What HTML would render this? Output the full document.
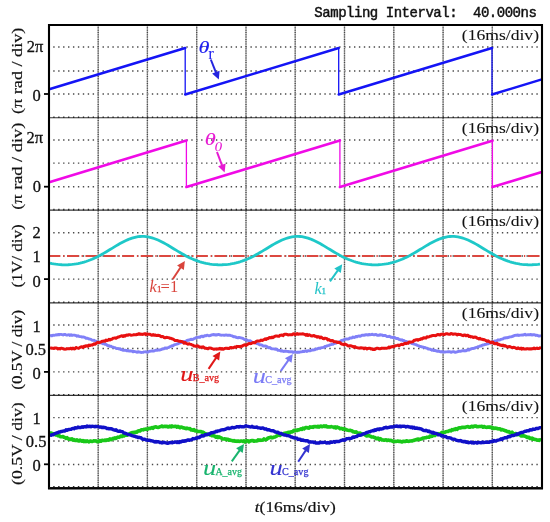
<!DOCTYPE html><html><head><meta charset="utf-8"><title>scope</title><style>html,body{margin:0;padding:0;background:#fff;}svg{display:block;filter:blur(0.3px);}text{font-family:"Liberation Serif","Noto Serif CJK SC",serif;}</style></head><body>
<svg width="550" height="522" viewBox="0 0 550 522">
<rect width="550" height="522" fill="#fff"/>
<text x="318.56 326.49 334.42 342.35 350.28 358.21 366.14 374.07 382.00 389.93 397.86 405.79 413.72 421.65 429.58 437.51 445.44 453.37 461.30 469.23 477.16 485.09 493.02 500.95 508.88 516.81 524.74 532.67" y="17.4" text-anchor="middle" style="font-family:'Liberation Mono',monospace;font-size:14px;fill:#111;stroke:#111;stroke-width:0.45px" xml:space="preserve">Sampling Interval:  40.000ns</text>
<line x1="49.0" y1="47.0" x2="542.0" y2="47.0" stroke="#4a4a4a" stroke-width="1.35" stroke-dasharray="1.4 3.53" stroke-dashoffset="0.7"/>
<line x1="49.0" y1="71.0" x2="542.0" y2="71.0" stroke="#4a4a4a" stroke-width="1.35" stroke-dasharray="1.4 3.53" stroke-dashoffset="0.7"/>
<line x1="49.0" y1="94.0" x2="542.0" y2="94.0" stroke="#4a4a4a" stroke-width="1.35" stroke-dasharray="1.4 3.53" stroke-dashoffset="0.7"/>
<line x1="49.0" y1="140.0" x2="542.0" y2="140.0" stroke="#4a4a4a" stroke-width="1.35" stroke-dasharray="1.4 3.53" stroke-dashoffset="0.7"/>
<line x1="49.0" y1="163.1" x2="542.0" y2="163.1" stroke="#4a4a4a" stroke-width="1.35" stroke-dasharray="1.4 3.53" stroke-dashoffset="0.7"/>
<line x1="49.0" y1="186.7" x2="542.0" y2="186.7" stroke="#4a4a4a" stroke-width="1.35" stroke-dasharray="1.4 3.53" stroke-dashoffset="0.7"/>
<line x1="49.0" y1="232.7" x2="542.0" y2="232.7" stroke="#4a4a4a" stroke-width="1.35" stroke-dasharray="1.4 3.53" stroke-dashoffset="0.7"/>
<line x1="49.0" y1="256.0" x2="542.0" y2="256.0" stroke="#4a4a4a" stroke-width="1.35" stroke-dasharray="1.4 3.53" stroke-dashoffset="0.7"/>
<line x1="49.0" y1="279.1" x2="542.0" y2="279.1" stroke="#4a4a4a" stroke-width="1.35" stroke-dasharray="1.4 3.53" stroke-dashoffset="0.7"/>
<line x1="49.0" y1="325.0" x2="542.0" y2="325.0" stroke="#4a4a4a" stroke-width="1.35" stroke-dasharray="1.4 3.53" stroke-dashoffset="0.7"/>
<line x1="49.0" y1="348.5" x2="542.0" y2="348.5" stroke="#4a4a4a" stroke-width="1.35" stroke-dasharray="1.4 3.53" stroke-dashoffset="0.7"/>
<line x1="49.0" y1="371.9" x2="542.0" y2="371.9" stroke="#4a4a4a" stroke-width="1.35" stroke-dasharray="1.4 3.53" stroke-dashoffset="0.7"/>
<line x1="49.0" y1="417.6" x2="542.0" y2="417.6" stroke="#4a4a4a" stroke-width="1.35" stroke-dasharray="1.4 3.53" stroke-dashoffset="0.7"/>
<line x1="49.0" y1="441.0" x2="542.0" y2="441.0" stroke="#4a4a4a" stroke-width="1.35" stroke-dasharray="1.4 3.53" stroke-dashoffset="0.7"/>
<line x1="49.0" y1="464.5" x2="542.0" y2="464.5" stroke="#4a4a4a" stroke-width="1.35" stroke-dasharray="1.4 3.53" stroke-dashoffset="0.7"/>
<line x1="98.2" y1="25.0" x2="98.2" y2="488.5" stroke="#a8a8a8" stroke-width="1.3"/>
<line x1="98.2" y1="25.0" x2="98.2" y2="488.5" stroke="#4a4a4a" stroke-width="1.3" stroke-dasharray="1.0 1.32"/>
<line x1="147.4" y1="25.0" x2="147.4" y2="488.5" stroke="#a8a8a8" stroke-width="1.3"/>
<line x1="147.4" y1="25.0" x2="147.4" y2="488.5" stroke="#4a4a4a" stroke-width="1.3" stroke-dasharray="1.0 1.32"/>
<line x1="196.7" y1="25.0" x2="196.7" y2="488.5" stroke="#a8a8a8" stroke-width="1.3"/>
<line x1="196.7" y1="25.0" x2="196.7" y2="488.5" stroke="#4a4a4a" stroke-width="1.3" stroke-dasharray="1.0 1.32"/>
<line x1="246.0" y1="25.0" x2="246.0" y2="488.5" stroke="#a8a8a8" stroke-width="1.3"/>
<line x1="246.0" y1="25.0" x2="246.0" y2="488.5" stroke="#4a4a4a" stroke-width="1.3" stroke-dasharray="1.0 1.32"/>
<line x1="295.2" y1="25.0" x2="295.2" y2="488.5" stroke="#a8a8a8" stroke-width="1.3"/>
<line x1="295.2" y1="25.0" x2="295.2" y2="488.5" stroke="#4a4a4a" stroke-width="1.3" stroke-dasharray="1.0 1.32"/>
<line x1="344.5" y1="25.0" x2="344.5" y2="488.5" stroke="#a8a8a8" stroke-width="1.3"/>
<line x1="344.5" y1="25.0" x2="344.5" y2="488.5" stroke="#4a4a4a" stroke-width="1.3" stroke-dasharray="1.0 1.32"/>
<line x1="393.8" y1="25.0" x2="393.8" y2="488.5" stroke="#a8a8a8" stroke-width="1.3"/>
<line x1="393.8" y1="25.0" x2="393.8" y2="488.5" stroke="#4a4a4a" stroke-width="1.3" stroke-dasharray="1.0 1.32"/>
<line x1="443.1" y1="25.0" x2="443.1" y2="488.5" stroke="#a8a8a8" stroke-width="1.3"/>
<line x1="443.1" y1="25.0" x2="443.1" y2="488.5" stroke="#4a4a4a" stroke-width="1.3" stroke-dasharray="1.0 1.32"/>
<line x1="492.3" y1="25.0" x2="492.3" y2="488.5" stroke="#a8a8a8" stroke-width="1.3"/>
<line x1="492.3" y1="25.0" x2="492.3" y2="488.5" stroke="#4a4a4a" stroke-width="1.3" stroke-dasharray="1.0 1.32"/>
<line x1="49.0" y1="117.7" x2="542.0" y2="117.7" stroke="#333" stroke-width="1.15"/>
<line x1="49.0" y1="117.2" x2="542.0" y2="117.2" stroke="#222" stroke-width="1.6" stroke-dasharray="1.3 3.63" stroke-dashoffset="0.65"/>
<line x1="49.0" y1="210.1" x2="542.0" y2="210.1" stroke="#333" stroke-width="1.15"/>
<line x1="49.0" y1="209.6" x2="542.0" y2="209.6" stroke="#222" stroke-width="1.6" stroke-dasharray="1.3 3.63" stroke-dashoffset="0.65"/>
<line x1="49.0" y1="302.8" x2="542.0" y2="302.8" stroke="#333" stroke-width="1.15"/>
<line x1="49.0" y1="302.3" x2="542.0" y2="302.3" stroke="#222" stroke-width="1.6" stroke-dasharray="1.3 3.63" stroke-dashoffset="0.65"/>
<line x1="49.0" y1="395.4" x2="542.0" y2="395.4" stroke="#333" stroke-width="1.15"/>
<line x1="49.0" y1="394.9" x2="542.0" y2="394.9" stroke="#222" stroke-width="1.6" stroke-dasharray="1.3 3.63" stroke-dashoffset="0.65"/>
<line x1="49.0" y1="486.6" x2="542.0" y2="486.6" stroke="#333" stroke-width="1.4" stroke-dasharray="1.5 3.43" stroke-dashoffset="0.75"/>
<g fill="none" stroke-linejoin="round">
<path d="M50.0,88.98 L185.2,48.00 M185.2,94.50 L338.7,47.97 M338.7,94.50 L492.0,48.03 M492.0,94.50 L541.0,79.65" stroke="#1414f5" stroke-width="2.5" stroke-linecap="round"/>
<path d="M185.2,48.00 V94.50 M338.7,48.00 V94.50 M492.0,48.00 V94.50" stroke="#1414f5" stroke-width="1.3"/>
<path d="M50.0,181.97 L186.4,140.60 M186.4,187.00 L339.9,140.45 M339.9,187.00 L492.4,140.75 M492.4,187.00 L541.0,172.26" stroke="#f00ae6" stroke-width="2.6" stroke-linecap="round"/>
<path d="M186.4,140.60 V187.00 M339.9,140.60 V187.00 M492.4,140.60 V187.00" stroke="#f00ae6" stroke-width="1.3"/>
<line x1="49" y1="256" x2="541" y2="256" stroke="#dc4840" stroke-width="2.0" stroke-dasharray="11.8 2.8 1.3 2.53" stroke-dashoffset="0.43"/>
<path d="M50.0,263.13 L52.0,263.55 L54.0,263.91 L56.0,264.21 L58.0,264.44 L60.0,264.62 L62.0,264.73 L64.0,264.79 L66.0,264.79 L68.0,264.73 L70.0,264.62 L72.0,264.44 L74.0,264.21 L76.0,263.91 L78.0,263.55 L80.0,263.13 L82.0,262.64 L84.0,262.09 L86.0,261.47 L88.0,260.79 L90.0,260.04 L92.0,259.23 L94.0,258.35 L96.0,257.41 L98.0,256.42 L100.0,255.37 L102.0,254.27 L104.0,253.14 L106.0,251.96 L108.0,250.77 L110.0,249.55 L112.0,248.33 L114.0,247.11 L116.0,245.91 L118.0,244.73 L120.0,243.58 L122.0,242.49 L124.0,241.45 L126.0,240.49 L128.0,239.61 L130.0,238.82 L132.0,238.12 L134.0,237.54 L136.0,237.07 L138.0,236.72 L140.0,236.50 L142.0,236.40 L144.0,236.44 L146.0,236.60 L148.0,236.88 L150.0,237.29 L152.0,237.82 L154.0,238.46 L156.0,239.20 L158.0,240.04 L160.0,240.96 L162.0,241.96 L164.0,243.03 L166.0,244.15 L168.0,245.31 L170.0,246.51 L172.0,247.72 L174.0,248.94 L176.0,250.16 L178.0,251.37 L180.0,252.55 L182.0,253.71 L184.0,254.83 L186.0,255.90 L188.0,256.92 L190.0,257.89 L192.0,258.80 L194.0,259.64 L196.0,260.42 L198.0,261.14 L200.0,261.79 L202.0,262.38 L204.0,262.89 L206.0,263.35 L208.0,263.74 L210.0,264.07 L212.0,264.33 L214.0,264.54 L216.0,264.68 L218.0,264.77 L220.0,264.80 L222.0,264.77 L224.0,264.68 L226.0,264.54 L228.0,264.33 L230.0,264.07 L232.0,263.74 L234.0,263.35 L236.0,262.89 L238.0,262.38 L240.0,261.79 L242.0,261.14 L244.0,260.42 L246.0,259.64 L248.0,258.80 L250.0,257.89 L252.0,256.92 L254.0,255.90 L256.0,254.83 L258.0,253.71 L260.0,252.55 L262.0,251.37 L264.0,250.16 L266.0,248.94 L268.0,247.72 L270.0,246.51 L272.0,245.31 L274.0,244.15 L276.0,243.03 L278.0,241.96 L280.0,240.96 L282.0,240.04 L284.0,239.20 L286.0,238.46 L288.0,237.82 L290.0,237.29 L292.0,236.88 L294.0,236.60 L296.0,236.44 L298.0,236.40 L300.0,236.50 L302.0,236.72 L304.0,237.07 L306.0,237.54 L308.0,238.12 L310.0,238.82 L312.0,239.61 L314.0,240.49 L316.0,241.45 L318.0,242.49 L320.0,243.58 L322.0,244.73 L324.0,245.91 L326.0,247.11 L328.0,248.33 L330.0,249.55 L332.0,250.77 L334.0,251.96 L336.0,253.14 L338.0,254.27 L340.0,255.37 L342.0,256.42 L344.0,257.41 L346.0,258.35 L348.0,259.23 L350.0,260.04 L352.0,260.79 L354.0,261.47 L356.0,262.09 L358.0,262.64 L360.0,263.13 L362.0,263.55 L364.0,263.91 L366.0,264.21 L368.0,264.44 L370.0,264.62 L372.0,264.73 L374.0,264.79 L376.0,264.79 L378.0,264.73 L380.0,264.62 L382.0,264.44 L384.0,264.21 L386.0,263.91 L388.0,263.55 L390.0,263.13 L392.0,262.64 L394.0,262.09 L396.0,261.47 L398.0,260.79 L400.0,260.04 L402.0,259.23 L404.0,258.35 L406.0,257.41 L408.0,256.42 L410.0,255.37 L412.0,254.27 L414.0,253.14 L416.0,251.96 L418.0,250.77 L420.0,249.55 L422.0,248.33 L424.0,247.11 L426.0,245.91 L428.0,244.73 L430.0,243.58 L432.0,242.49 L434.0,241.45 L436.0,240.49 L438.0,239.61 L440.0,238.82 L442.0,238.12 L444.0,237.54 L446.0,237.07 L448.0,236.72 L450.0,236.50 L452.0,236.40 L454.0,236.44 L456.0,236.60 L458.0,236.88 L460.0,237.29 L462.0,237.82 L464.0,238.46 L466.0,239.20 L468.0,240.04 L470.0,240.96 L472.0,241.96 L474.0,243.03 L476.0,244.15 L478.0,245.31 L480.0,246.51 L482.0,247.72 L484.0,248.94 L486.0,250.16 L488.0,251.37 L490.0,252.55 L492.0,253.71 L494.0,254.83 L496.0,255.90 L498.0,256.92 L500.0,257.89 L502.0,258.80 L504.0,259.64 L506.0,260.42 L508.0,261.14 L510.0,261.79 L512.0,262.38 L514.0,262.89 L516.0,263.35 L518.0,263.74 L520.0,264.07 L522.0,264.33 L524.0,264.54 L526.0,264.68 L528.0,264.77 L530.0,264.80 L532.0,264.77 L534.0,264.68 L536.0,264.54 L538.0,264.33 L540.0,264.07" stroke="#1ec8c8" stroke-width="2.8"/>
<path d="M50.0,335.87 L51.0,335.53 L52.0,335.81 L53.0,335.13 L54.0,335.41 L55.0,335.12 L56.0,334.73 L57.0,335.03 L58.0,334.52 L59.0,334.80 L60.0,334.41 L61.0,334.39 L62.0,334.65 L63.0,335.00 L64.0,334.36 L65.0,334.46 L66.0,334.85 L67.0,335.18 L68.0,334.90 L69.0,334.80 L70.0,335.41 L71.0,334.67 L72.0,335.51 L73.0,335.12 L74.0,335.12 L75.0,335.25 L76.0,335.59 L77.0,336.22 L78.0,335.83 L79.0,336.39 L80.0,336.66 L81.0,336.64 L82.0,337.03 L83.0,336.84 L84.0,337.09 L85.0,337.49 L86.0,338.19 L87.0,338.24 L88.0,338.43 L89.0,338.97 L90.0,339.16 L91.0,339.34 L92.0,340.10 L93.0,340.34 L94.0,340.26 L95.0,340.90 L96.0,341.19 L97.0,341.85 L98.0,342.07 L99.0,342.02 L100.0,342.99 L101.0,342.57 L102.0,343.19 L103.0,343.85 L104.0,343.66 L105.0,344.32 L106.0,344.26 L107.0,345.18 L108.0,345.61 L109.0,345.78 L110.0,346.39 L111.0,346.22 L112.0,346.89 L113.0,347.13 L114.0,347.43 L115.0,347.63 L116.0,348.28 L117.0,348.67 L118.0,348.54 L119.0,348.99 L120.0,348.72 L121.0,349.56 L122.0,349.76 L123.0,350.32 L124.0,350.39 L125.0,350.13 L126.0,350.43 L127.0,350.88 L128.0,350.48 L129.0,351.05 L130.0,350.95 L131.0,351.05 L132.0,351.13 L133.0,351.89 L134.0,351.42 L135.0,351.62 L136.0,351.82 L137.0,352.32 L138.0,351.66 L139.0,352.03 L140.0,352.14 L141.0,352.45 L142.0,352.38 L143.0,352.40 L144.0,351.84 L145.0,351.91 L146.0,351.79 L147.0,352.19 L148.0,352.16 L149.0,351.33 L150.0,351.23 L151.0,351.15 L152.0,351.00 L153.0,351.07 L154.0,350.99 L155.0,350.51 L156.0,350.08 L157.0,350.25 L158.0,349.98 L159.0,349.93 L160.0,350.04 L161.0,349.55 L162.0,349.13 L163.0,348.95 L164.0,348.72 L165.0,347.87 L166.0,348.34 L167.0,347.93 L168.0,347.70 L169.0,347.31 L170.0,346.62 L171.0,346.30 L172.0,345.70 L173.0,345.84 L174.0,344.98 L175.0,344.64 L176.0,344.42 L177.0,344.02 L178.0,343.83 L179.0,343.22 L180.0,342.82 L181.0,342.60 L182.0,342.20 L183.0,342.09 L184.0,341.43 L185.0,341.85 L186.0,341.27 L187.0,340.51 L188.0,340.27 L189.0,340.03 L190.0,339.71 L191.0,339.18 L192.0,339.52 L193.0,339.34 L194.0,338.57 L195.0,338.29 L196.0,337.65 L197.0,337.39 L198.0,337.35 L199.0,337.02 L200.0,337.28 L201.0,336.45 L202.0,336.10 L203.0,336.73 L204.0,336.15 L205.0,335.61 L206.0,335.80 L207.0,335.17 L208.0,335.47 L209.0,335.74 L210.0,335.51 L211.0,335.25 L212.0,334.76 L213.0,334.78 L214.0,334.53 L215.0,335.02 L216.0,334.77 L217.0,334.96 L218.0,334.55 L219.0,334.45 L220.0,335.00 L221.0,335.19 L222.0,335.12 L223.0,335.14 L224.0,335.22 L225.0,335.24 L226.0,334.88 L227.0,335.26 L228.0,335.25 L229.0,335.09 L230.0,335.25 L231.0,335.65 L232.0,335.81 L233.0,336.39 L234.0,336.84 L235.0,336.59 L236.0,337.26 L237.0,337.55 L238.0,337.77 L239.0,337.50 L240.0,337.64 L241.0,337.92 L242.0,338.18 L243.0,338.48 L244.0,339.16 L245.0,339.72 L246.0,339.98 L247.0,339.98 L248.0,340.47 L249.0,340.93 L250.0,340.63 L251.0,341.49 L252.0,342.06 L253.0,342.29 L254.0,342.61 L255.0,342.72 L256.0,342.80 L257.0,343.70 L258.0,343.65 L259.0,344.42 L260.0,344.93 L261.0,344.76 L262.0,345.11 L263.0,345.95 L264.0,346.09 L265.0,345.93 L266.0,346.22 L267.0,346.57 L268.0,347.57 L269.0,347.79 L270.0,347.51 L271.0,348.42 L272.0,348.85 L273.0,348.85 L274.0,348.85 L275.0,349.29 L276.0,349.17 L277.0,349.31 L278.0,350.41 L279.0,350.35 L280.0,350.45 L281.0,351.02 L282.0,350.76 L283.0,351.33 L284.0,351.46 L285.0,351.06 L286.0,351.24 L287.0,351.40 L288.0,351.46 L289.0,351.88 L290.0,351.67 L291.0,351.88 L292.0,351.68 L293.0,352.42 L294.0,351.95 L295.0,352.06 L296.0,352.17 L297.0,352.45 L298.0,351.98 L299.0,352.39 L300.0,351.96 L301.0,351.91 L302.0,351.82 L303.0,351.27 L304.0,351.53 L305.0,351.17 L306.0,350.87 L307.0,351.44 L308.0,350.70 L309.0,350.80 L310.0,350.83 L311.0,350.48 L312.0,350.06 L313.0,350.00 L314.0,349.80 L315.0,349.76 L316.0,348.89 L317.0,349.04 L318.0,348.48 L319.0,348.22 L320.0,348.37 L321.0,347.83 L322.0,347.57 L323.0,347.44 L324.0,347.25 L325.0,346.50 L326.0,346.32 L327.0,345.89 L328.0,345.56 L329.0,345.37 L330.0,344.81 L331.0,344.53 L332.0,344.13 L333.0,344.20 L334.0,343.62 L335.0,343.43 L336.0,343.14 L337.0,342.17 L338.0,342.09 L339.0,342.09 L340.0,341.65 L341.0,340.67 L342.0,340.32 L343.0,340.28 L344.0,339.61 L345.0,339.44 L346.0,338.98 L347.0,339.20 L348.0,339.00 L349.0,338.81 L350.0,337.85 L351.0,338.08 L352.0,337.76 L353.0,337.04 L354.0,337.45 L355.0,337.29 L356.0,336.39 L357.0,336.83 L358.0,336.13 L359.0,336.01 L360.0,336.28 L361.0,335.97 L362.0,335.21 L363.0,335.31 L364.0,335.26 L365.0,334.98 L366.0,334.75 L367.0,334.77 L368.0,335.06 L369.0,334.37 L370.0,334.80 L371.0,334.67 L372.0,334.27 L373.0,334.55 L374.0,334.82 L375.0,334.75 L376.0,334.38 L377.0,335.27 L378.0,335.16 L379.0,335.40 L380.0,334.72 L381.0,334.97 L382.0,334.89 L383.0,335.70 L384.0,335.39 L385.0,335.42 L386.0,335.86 L387.0,336.49 L388.0,336.61 L389.0,336.31 L390.0,336.44 L391.0,337.37 L392.0,337.30 L393.0,337.67 L394.0,337.38 L395.0,337.63 L396.0,338.48 L397.0,338.53 L398.0,338.51 L399.0,339.60 L400.0,339.64 L401.0,340.11 L402.0,339.79 L403.0,340.81 L404.0,340.44 L405.0,341.50 L406.0,341.47 L407.0,341.72 L408.0,342.26 L409.0,342.95 L410.0,342.70 L411.0,342.93 L412.0,343.65 L413.0,343.74 L414.0,343.98 L415.0,344.37 L416.0,344.62 L417.0,345.10 L418.0,345.55 L419.0,345.88 L420.0,346.62 L421.0,346.53 L422.0,347.04 L423.0,347.07 L424.0,347.54 L425.0,347.54 L426.0,348.05 L427.0,348.13 L428.0,349.05 L429.0,349.16 L430.0,349.10 L431.0,349.61 L432.0,350.26 L433.0,349.75 L434.0,350.61 L435.0,350.47 L436.0,350.72 L437.0,351.21 L438.0,350.99 L439.0,351.25 L440.0,351.56 L441.0,351.96 L442.0,351.50 L443.0,352.05 L444.0,352.03 L445.0,352.04 L446.0,351.90 L447.0,351.90 L448.0,351.67 L449.0,351.76 L450.0,351.71 L451.0,352.31 L452.0,351.85 L453.0,351.73 L454.0,351.61 L455.0,352.23 L456.0,352.18 L457.0,351.90 L458.0,351.45 L459.0,351.29 L460.0,351.20 L461.0,351.21 L462.0,350.78 L463.0,350.86 L464.0,350.51 L465.0,350.95 L466.0,350.75 L467.0,350.14 L468.0,349.64 L469.0,350.05 L470.0,349.21 L471.0,348.99 L472.0,348.40 L473.0,348.46 L474.0,348.25 L475.0,347.98 L476.0,347.40 L477.0,347.37 L478.0,346.60 L479.0,346.51 L480.0,346.02 L481.0,345.96 L482.0,345.30 L483.0,344.94 L484.0,344.85 L485.0,344.44 L486.0,344.40 L487.0,344.00 L488.0,343.85 L489.0,343.41 L490.0,343.11 L491.0,342.90 L492.0,342.11 L493.0,341.70 L494.0,341.95 L495.0,340.85 L496.0,341.03 L497.0,340.62 L498.0,339.75 L499.0,340.14 L500.0,339.87 L501.0,339.32 L502.0,339.11 L503.0,338.88 L504.0,337.98 L505.0,338.05 L506.0,337.76 L507.0,337.79 L508.0,337.51 L509.0,337.28 L510.0,336.83 L511.0,336.89 L512.0,336.48 L513.0,336.29 L514.0,335.69 L515.0,335.34 L516.0,335.26 L517.0,335.32 L518.0,334.95 L519.0,335.49 L520.0,335.13 L521.0,335.09 L522.0,335.01 L523.0,334.99 L524.0,334.77 L525.0,334.29 L526.0,334.98 L527.0,334.92 L528.0,334.71 L529.0,334.75 L530.0,334.90 L531.0,334.41 L532.0,335.07 L533.0,334.71 L534.0,334.64 L535.0,334.92 L536.0,335.45 L537.0,335.11 L538.0,335.73 L539.0,336.10 L540.0,335.84 L541.0,335.92" stroke="#8080f8" stroke-width="2.9"/>
<path d="M50.0,347.67 L51.0,348.07 L52.0,348.32 L53.0,348.28 L54.0,348.44 L55.0,347.88 L56.0,348.06 L57.0,348.29 L58.0,348.95 L59.0,348.50 L60.0,348.87 L61.0,348.25 L62.0,348.34 L63.0,348.61 L64.0,349.11 L65.0,349.13 L66.0,349.09 L67.0,348.60 L68.0,348.83 L69.0,348.72 L70.0,348.66 L71.0,348.17 L72.0,349.01 L73.0,348.08 L74.0,348.90 L75.0,348.73 L76.0,347.49 L77.0,347.88 L78.0,348.16 L79.0,348.17 L80.0,347.37 L81.0,346.97 L82.0,346.71 L83.0,347.39 L84.0,346.29 L85.0,346.52 L86.0,345.76 L87.0,345.98 L88.0,346.25 L89.0,345.02 L90.0,345.58 L91.0,344.95 L92.0,345.13 L93.0,344.64 L94.0,343.79 L95.0,344.31 L96.0,343.53 L97.0,342.68 L98.0,342.36 L99.0,342.65 L100.0,342.30 L101.0,341.83 L102.0,341.33 L103.0,341.28 L104.0,340.94 L105.0,341.27 L106.0,339.96 L107.0,340.57 L108.0,340.38 L109.0,339.22 L110.0,339.90 L111.0,339.35 L112.0,339.30 L113.0,338.29 L114.0,338.11 L115.0,337.87 L116.0,338.33 L117.0,337.59 L118.0,337.06 L119.0,336.90 L120.0,336.48 L121.0,335.98 L122.0,335.83 L123.0,336.50 L124.0,335.64 L125.0,336.23 L126.0,335.22 L127.0,335.07 L128.0,335.20 L129.0,334.66 L130.0,334.74 L131.0,335.31 L132.0,335.11 L133.0,334.91 L134.0,334.60 L135.0,334.85 L136.0,334.81 L137.0,334.28 L138.0,334.44 L139.0,333.60 L140.0,334.39 L141.0,334.04 L142.0,334.40 L143.0,334.29 L144.0,333.88 L145.0,333.63 L146.0,334.74 L147.0,333.84 L148.0,334.32 L149.0,334.25 L150.0,334.30 L151.0,334.93 L152.0,335.34 L153.0,334.61 L154.0,335.22 L155.0,334.95 L156.0,335.42 L157.0,335.40 L158.0,335.31 L159.0,335.49 L160.0,335.75 L161.0,336.79 L162.0,336.52 L163.0,336.42 L164.0,337.48 L165.0,337.83 L166.0,337.42 L167.0,337.30 L168.0,337.63 L169.0,337.77 L170.0,338.35 L171.0,338.33 L172.0,338.79 L173.0,339.10 L174.0,339.76 L175.0,340.43 L176.0,340.56 L177.0,340.46 L178.0,340.76 L179.0,341.19 L180.0,341.31 L181.0,341.57 L182.0,341.54 L183.0,342.10 L184.0,343.22 L185.0,342.51 L186.0,343.26 L187.0,343.70 L188.0,344.27 L189.0,343.77 L190.0,344.12 L191.0,344.37 L192.0,344.82 L193.0,345.14 L194.0,346.00 L195.0,346.13 L196.0,346.40 L197.0,345.62 L198.0,345.86 L199.0,346.89 L200.0,347.33 L201.0,347.02 L202.0,347.35 L203.0,346.83 L204.0,347.48 L205.0,348.29 L206.0,348.32 L207.0,348.50 L208.0,348.77 L209.0,348.02 L210.0,347.97 L211.0,348.12 L212.0,348.65 L213.0,348.92 L214.0,349.29 L215.0,349.08 L216.0,349.03 L217.0,349.20 L218.0,348.85 L219.0,348.96 L220.0,348.34 L221.0,349.21 L222.0,348.51 L223.0,349.29 L224.0,348.91 L225.0,348.43 L226.0,348.13 L227.0,348.19 L228.0,348.55 L229.0,348.50 L230.0,347.67 L231.0,347.48 L232.0,347.88 L233.0,347.79 L234.0,347.39 L235.0,347.01 L236.0,347.27 L237.0,346.37 L238.0,346.51 L239.0,346.48 L240.0,346.86 L241.0,346.25 L242.0,346.29 L243.0,345.55 L244.0,345.01 L245.0,344.77 L246.0,345.36 L247.0,344.78 L248.0,344.02 L249.0,343.40 L250.0,343.68 L251.0,343.61 L252.0,343.01 L253.0,342.52 L254.0,342.71 L255.0,342.72 L256.0,341.59 L257.0,341.05 L258.0,341.12 L259.0,340.92 L260.0,340.93 L261.0,340.05 L262.0,340.47 L263.0,340.11 L264.0,339.54 L265.0,338.89 L266.0,339.52 L267.0,338.45 L268.0,338.79 L269.0,337.81 L270.0,337.53 L271.0,337.92 L272.0,337.11 L273.0,337.65 L274.0,336.86 L275.0,336.26 L276.0,336.08 L277.0,336.10 L278.0,336.19 L279.0,336.34 L280.0,335.19 L281.0,335.31 L282.0,334.92 L283.0,335.68 L284.0,334.53 L285.0,334.29 L286.0,334.18 L287.0,334.46 L288.0,334.97 L289.0,334.86 L290.0,334.60 L291.0,334.85 L292.0,334.72 L293.0,333.95 L294.0,333.75 L295.0,334.63 L296.0,334.40 L297.0,333.54 L298.0,334.32 L299.0,334.01 L300.0,334.05 L301.0,334.05 L302.0,333.92 L303.0,333.80 L304.0,334.22 L305.0,334.41 L306.0,335.25 L307.0,334.38 L308.0,335.52 L309.0,334.76 L310.0,335.10 L311.0,335.82 L312.0,336.00 L313.0,335.72 L314.0,335.45 L315.0,336.17 L316.0,336.26 L317.0,337.14 L318.0,336.50 L319.0,336.94 L320.0,337.83 L321.0,337.04 L322.0,337.76 L323.0,338.50 L324.0,338.72 L325.0,338.13 L326.0,338.40 L327.0,338.72 L328.0,340.03 L329.0,339.53 L330.0,340.41 L331.0,340.89 L332.0,340.52 L333.0,340.74 L334.0,341.86 L335.0,341.75 L336.0,341.63 L337.0,342.47 L338.0,342.29 L339.0,342.54 L340.0,342.51 L341.0,343.70 L342.0,344.19 L343.0,344.13 L344.0,344.79 L345.0,343.96 L346.0,344.48 L347.0,345.04 L348.0,345.88 L349.0,346.13 L350.0,345.70 L351.0,345.77 L352.0,346.22 L353.0,346.52 L354.0,347.26 L355.0,346.57 L356.0,347.52 L357.0,347.63 L358.0,347.91 L359.0,348.02 L360.0,347.98 L361.0,347.79 L362.0,347.92 L363.0,348.10 L364.0,348.72 L365.0,347.98 L366.0,348.22 L367.0,348.97 L368.0,348.43 L369.0,348.27 L370.0,348.28 L371.0,348.93 L372.0,348.68 L373.0,349.48 L374.0,349.36 L375.0,349.47 L376.0,348.57 L377.0,348.32 L378.0,348.28 L379.0,348.70 L380.0,348.87 L381.0,348.47 L382.0,348.12 L383.0,348.23 L384.0,348.35 L385.0,348.28 L386.0,348.22 L387.0,348.19 L388.0,347.81 L389.0,346.98 L390.0,347.66 L391.0,346.81 L392.0,346.93 L393.0,346.49 L394.0,346.70 L395.0,345.83 L396.0,345.65 L397.0,345.40 L398.0,345.04 L399.0,345.66 L400.0,345.03 L401.0,344.46 L402.0,344.27 L403.0,344.70 L404.0,343.84 L405.0,343.22 L406.0,343.62 L407.0,343.14 L408.0,343.25 L409.0,341.89 L410.0,342.03 L411.0,342.15 L412.0,341.87 L413.0,341.66 L414.0,340.31 L415.0,340.31 L416.0,339.81 L417.0,339.60 L418.0,340.24 L419.0,339.49 L420.0,339.62 L421.0,338.66 L422.0,338.98 L423.0,338.20 L424.0,337.71 L425.0,338.07 L426.0,338.01 L427.0,336.76 L428.0,337.10 L429.0,336.90 L430.0,336.19 L431.0,336.15 L432.0,335.67 L433.0,335.54 L434.0,335.41 L435.0,335.64 L436.0,335.53 L437.0,334.83 L438.0,334.45 L439.0,334.69 L440.0,334.98 L441.0,334.27 L442.0,334.31 L443.0,334.09 L444.0,334.71 L445.0,334.34 L446.0,333.70 L447.0,333.70 L448.0,334.01 L449.0,334.17 L450.0,334.27 L451.0,333.61 L452.0,333.71 L453.0,334.37 L454.0,334.07 L455.0,333.96 L456.0,334.05 L457.0,334.90 L458.0,334.22 L459.0,334.62 L460.0,334.47 L461.0,334.66 L462.0,335.33 L463.0,335.63 L464.0,335.02 L465.0,334.99 L466.0,335.80 L467.0,335.35 L468.0,335.30 L469.0,336.58 L470.0,336.22 L471.0,336.91 L472.0,336.64 L473.0,337.45 L474.0,337.18 L475.0,337.07 L476.0,337.15 L477.0,338.06 L478.0,338.43 L479.0,339.03 L480.0,338.32 L481.0,339.25 L482.0,339.23 L483.0,339.68 L484.0,339.54 L485.0,340.00 L486.0,340.59 L487.0,341.37 L488.0,340.69 L489.0,341.45 L490.0,342.13 L491.0,342.62 L492.0,342.00 L493.0,342.21 L494.0,343.49 L495.0,343.82 L496.0,343.52 L497.0,343.29 L498.0,344.62 L499.0,344.26 L500.0,345.15 L501.0,345.08 L502.0,345.59 L503.0,345.05 L504.0,346.05 L505.0,345.62 L506.0,346.07 L507.0,346.83 L508.0,347.03 L509.0,346.47 L510.0,346.72 L511.0,347.13 L512.0,347.45 L513.0,347.47 L514.0,347.32 L515.0,347.62 L516.0,348.34 L517.0,348.68 L518.0,347.78 L519.0,348.51 L520.0,348.84 L521.0,348.07 L522.0,349.10 L523.0,348.30 L524.0,348.93 L525.0,348.91 L526.0,349.03 L527.0,348.66 L528.0,348.80 L529.0,348.99 L530.0,348.78 L531.0,349.03 L532.0,348.73 L533.0,348.66 L534.0,348.09 L535.0,348.72 L536.0,348.47 L537.0,348.06 L538.0,348.58 L539.0,348.47 L540.0,347.95 L541.0,347.47" stroke="#e81010" stroke-width="3.0"/>
<path d="M50.0,433.14 L51.0,433.01 L52.0,433.34 L53.0,434.01 L54.0,433.91 L55.0,434.63 L56.0,435.01 L57.0,434.75 L58.0,435.76 L59.0,435.40 L60.0,436.47 L61.0,436.81 L62.0,436.78 L63.0,436.51 L64.0,437.32 L65.0,437.44 L66.0,438.39 L67.0,437.67 L68.0,438.78 L69.0,439.19 L70.0,439.11 L71.0,439.43 L72.0,438.90 L73.0,440.06 L74.0,439.67 L75.0,440.42 L76.0,440.55 L77.0,439.82 L78.0,440.72 L79.0,441.04 L80.0,440.14 L81.0,440.61 L82.0,441.21 L83.0,440.60 L84.0,441.57 L85.0,440.91 L86.0,441.62 L87.0,440.87 L88.0,441.35 L89.0,441.88 L90.0,441.04 L91.0,441.12 L92.0,441.40 L93.0,441.16 L94.0,440.79 L95.0,440.92 L96.0,440.84 L97.0,441.70 L98.0,441.31 L99.0,441.48 L100.0,440.51 L101.0,441.13 L102.0,440.20 L103.0,440.56 L104.0,440.54 L105.0,440.05 L106.0,440.49 L107.0,439.93 L108.0,439.77 L109.0,439.94 L110.0,438.80 L111.0,439.64 L112.0,438.98 L113.0,438.47 L114.0,438.71 L115.0,437.82 L116.0,438.43 L117.0,437.68 L118.0,437.15 L119.0,437.36 L120.0,436.69 L121.0,436.09 L122.0,436.48 L123.0,435.35 L124.0,435.98 L125.0,435.01 L126.0,435.17 L127.0,435.28 L128.0,434.50 L129.0,434.29 L130.0,433.56 L131.0,432.88 L132.0,432.62 L133.0,432.45 L134.0,432.71 L135.0,432.19 L136.0,431.99 L137.0,432.16 L138.0,430.95 L139.0,430.78 L140.0,431.01 L141.0,429.98 L142.0,429.69 L143.0,429.84 L144.0,429.29 L145.0,429.34 L146.0,428.94 L147.0,429.13 L148.0,428.91 L149.0,428.23 L150.0,428.52 L151.0,428.14 L152.0,427.54 L153.0,428.32 L154.0,427.32 L155.0,427.04 L156.0,426.83 L157.0,427.34 L158.0,427.49 L159.0,427.26 L160.0,426.70 L161.0,426.44 L162.0,426.05 L163.0,426.74 L164.0,426.59 L165.0,426.29 L166.0,426.61 L167.0,426.34 L168.0,426.92 L169.0,426.68 L170.0,426.12 L171.0,426.93 L172.0,425.94 L173.0,426.58 L174.0,426.49 L175.0,426.37 L176.0,426.24 L177.0,427.20 L178.0,426.40 L179.0,427.17 L180.0,427.77 L181.0,426.96 L182.0,427.18 L183.0,427.84 L184.0,427.89 L185.0,428.24 L186.0,428.65 L187.0,428.09 L188.0,428.46 L189.0,428.68 L190.0,428.61 L191.0,429.85 L192.0,429.97 L193.0,430.15 L194.0,429.56 L195.0,430.83 L196.0,430.98 L197.0,430.93 L198.0,431.54 L199.0,431.48 L200.0,431.50 L201.0,431.65 L202.0,432.10 L203.0,432.17 L204.0,432.83 L205.0,433.63 L206.0,433.87 L207.0,434.35 L208.0,434.50 L209.0,434.27 L210.0,434.92 L211.0,435.08 L212.0,435.80 L213.0,435.78 L214.0,435.76 L215.0,436.50 L216.0,437.18 L217.0,436.56 L218.0,437.63 L219.0,436.87 L220.0,437.43 L221.0,437.66 L222.0,438.52 L223.0,439.01 L224.0,439.01 L225.0,438.73 L226.0,439.62 L227.0,439.17 L228.0,439.27 L229.0,440.26 L230.0,440.12 L231.0,440.36 L232.0,440.50 L233.0,441.03 L234.0,440.56 L235.0,441.13 L236.0,441.08 L237.0,441.39 L238.0,440.98 L239.0,441.41 L240.0,441.30 L241.0,441.04 L242.0,440.98 L243.0,441.51 L244.0,440.88 L245.0,441.89 L246.0,440.97 L247.0,440.82 L248.0,440.89 L249.0,441.84 L250.0,441.09 L251.0,440.78 L252.0,440.57 L253.0,440.50 L254.0,441.19 L255.0,441.01 L256.0,440.96 L257.0,440.88 L258.0,439.93 L259.0,440.41 L260.0,439.97 L261.0,440.34 L262.0,440.16 L263.0,440.05 L264.0,438.85 L265.0,439.60 L266.0,439.44 L267.0,439.24 L268.0,438.00 L269.0,437.87 L270.0,437.51 L271.0,437.16 L272.0,437.87 L273.0,437.55 L274.0,437.06 L275.0,437.01 L276.0,436.49 L277.0,435.79 L278.0,435.27 L279.0,434.97 L280.0,435.46 L281.0,434.50 L282.0,434.33 L283.0,434.15 L284.0,433.36 L285.0,433.34 L286.0,433.07 L287.0,433.28 L288.0,432.56 L289.0,432.21 L290.0,432.68 L291.0,431.83 L292.0,431.96 L293.0,431.39 L294.0,430.41 L295.0,430.59 L296.0,430.34 L297.0,430.48 L298.0,429.71 L299.0,429.88 L300.0,429.43 L301.0,428.81 L302.0,429.35 L303.0,428.20 L304.0,428.86 L305.0,427.88 L306.0,427.48 L307.0,427.53 L308.0,428.02 L309.0,428.12 L310.0,426.79 L311.0,427.23 L312.0,427.10 L313.0,427.34 L314.0,426.49 L315.0,426.76 L316.0,426.50 L317.0,427.00 L318.0,426.25 L319.0,427.02 L320.0,426.19 L321.0,426.08 L322.0,426.64 L323.0,426.40 L324.0,425.94 L325.0,426.60 L326.0,425.96 L327.0,426.86 L328.0,426.81 L329.0,426.99 L330.0,426.88 L331.0,426.64 L332.0,426.81 L333.0,426.92 L334.0,427.64 L335.0,426.82 L336.0,427.93 L337.0,427.05 L338.0,427.44 L339.0,427.69 L340.0,428.65 L341.0,428.37 L342.0,428.44 L343.0,429.26 L344.0,428.71 L345.0,429.22 L346.0,429.55 L347.0,430.07 L348.0,430.32 L349.0,430.46 L350.0,430.37 L351.0,430.62 L352.0,430.70 L353.0,431.81 L354.0,431.88 L355.0,432.27 L356.0,431.88 L357.0,432.50 L358.0,433.20 L359.0,433.27 L360.0,433.03 L361.0,433.74 L362.0,434.55 L363.0,434.08 L364.0,434.33 L365.0,434.76 L366.0,435.55 L367.0,436.01 L368.0,435.48 L369.0,435.78 L370.0,436.17 L371.0,436.55 L372.0,437.07 L373.0,436.91 L374.0,437.38 L375.0,437.47 L376.0,438.67 L377.0,438.63 L378.0,438.12 L379.0,439.38 L380.0,438.57 L381.0,439.13 L382.0,440.06 L383.0,440.03 L384.0,440.15 L385.0,439.97 L386.0,439.85 L387.0,440.54 L388.0,440.05 L389.0,440.31 L390.0,440.65 L391.0,440.34 L392.0,440.89 L393.0,441.45 L394.0,441.41 L395.0,441.25 L396.0,441.46 L397.0,441.30 L398.0,440.95 L399.0,441.52 L400.0,441.29 L401.0,441.68 L402.0,441.86 L403.0,441.26 L404.0,441.39 L405.0,441.54 L406.0,441.08 L407.0,440.77 L408.0,441.27 L409.0,441.36 L410.0,441.12 L411.0,440.90 L412.0,440.95 L413.0,440.59 L414.0,440.39 L415.0,439.99 L416.0,439.64 L417.0,439.83 L418.0,439.00 L419.0,439.17 L420.0,439.39 L421.0,439.08 L422.0,438.75 L423.0,438.05 L424.0,438.01 L425.0,437.79 L426.0,437.73 L427.0,437.21 L428.0,437.25 L429.0,437.28 L430.0,436.10 L431.0,436.37 L432.0,436.23 L433.0,435.47 L434.0,435.29 L435.0,435.57 L436.0,434.14 L437.0,434.45 L438.0,433.68 L439.0,434.12 L440.0,434.01 L441.0,433.20 L442.0,432.40 L443.0,432.66 L444.0,432.32 L445.0,432.24 L446.0,431.70 L447.0,431.56 L448.0,431.50 L449.0,430.85 L450.0,430.45 L451.0,430.82 L452.0,429.67 L453.0,429.98 L454.0,429.38 L455.0,429.58 L456.0,428.58 L457.0,429.38 L458.0,428.41 L459.0,427.84 L460.0,427.90 L461.0,427.86 L462.0,427.21 L463.0,427.53 L464.0,427.37 L465.0,427.55 L466.0,426.99 L467.0,426.76 L468.0,426.59 L469.0,427.11 L470.0,427.25 L471.0,426.67 L472.0,426.23 L473.0,426.87 L474.0,426.34 L475.0,426.09 L476.0,425.96 L477.0,426.73 L478.0,426.77 L479.0,426.58 L480.0,426.41 L481.0,426.56 L482.0,426.21 L483.0,427.16 L484.0,426.50 L485.0,426.94 L486.0,427.25 L487.0,427.36 L488.0,427.07 L489.0,426.99 L490.0,427.44 L491.0,427.09 L492.0,428.11 L493.0,427.71 L494.0,428.49 L495.0,427.99 L496.0,428.33 L497.0,428.40 L498.0,428.83 L499.0,428.77 L500.0,428.79 L501.0,429.90 L502.0,429.63 L503.0,429.84 L504.0,430.18 L505.0,430.67 L506.0,430.88 L507.0,431.42 L508.0,431.73 L509.0,431.67 L510.0,432.64 L511.0,432.85 L512.0,432.19 L513.0,433.42 L514.0,433.82 L515.0,433.97 L516.0,433.51 L517.0,434.64 L518.0,434.71 L519.0,434.27 L520.0,434.57 L521.0,435.99 L522.0,435.94 L523.0,435.74 L524.0,435.86 L525.0,436.19 L526.0,436.58 L527.0,437.51 L528.0,437.27 L529.0,437.30 L530.0,438.46 L531.0,438.58 L532.0,438.07 L533.0,439.18 L534.0,439.07 L535.0,439.50 L536.0,439.58 L537.0,440.05 L538.0,440.12 L539.0,440.37 L540.0,439.77 L541.0,440.53" stroke="#19c819" stroke-width="3.6"/>
<path d="M50.0,435.42 L51.0,435.30 L52.0,434.66 L53.0,434.77 L54.0,434.11 L55.0,433.49 L56.0,433.13 L57.0,432.71 L58.0,432.73 L59.0,431.98 L60.0,432.06 L61.0,431.43 L62.0,431.46 L63.0,431.16 L64.0,430.91 L65.0,430.94 L66.0,429.79 L67.0,430.35 L68.0,429.70 L69.0,429.53 L70.0,429.38 L71.0,429.31 L72.0,428.60 L73.0,428.42 L74.0,428.74 L75.0,427.65 L76.0,428.02 L77.0,427.83 L78.0,427.05 L79.0,427.47 L80.0,427.39 L81.0,427.50 L82.0,426.77 L83.0,427.31 L84.0,426.74 L85.0,426.63 L86.0,426.97 L87.0,426.04 L88.0,426.68 L89.0,426.55 L90.0,426.25 L91.0,426.76 L92.0,426.27 L93.0,426.40 L94.0,426.49 L95.0,426.78 L96.0,426.28 L97.0,426.58 L98.0,426.65 L99.0,426.88 L100.0,427.27 L101.0,426.86 L102.0,427.53 L103.0,427.26 L104.0,427.52 L105.0,427.47 L106.0,427.89 L107.0,428.55 L108.0,428.44 L109.0,428.79 L110.0,428.56 L111.0,428.78 L112.0,429.01 L113.0,429.56 L114.0,429.87 L115.0,430.29 L116.0,429.83 L117.0,430.80 L118.0,431.25 L119.0,431.21 L120.0,431.02 L121.0,431.58 L122.0,431.60 L123.0,432.11 L124.0,433.16 L125.0,433.18 L126.0,433.55 L127.0,434.02 L128.0,434.47 L129.0,434.50 L130.0,434.84 L131.0,435.19 L132.0,435.59 L133.0,435.82 L134.0,436.23 L135.0,436.09 L136.0,436.87 L137.0,436.98 L138.0,437.60 L139.0,437.25 L140.0,437.64 L141.0,437.80 L142.0,438.83 L143.0,439.26 L144.0,439.28 L145.0,439.27 L146.0,439.99 L147.0,440.21 L148.0,440.24 L149.0,440.17 L150.0,440.45 L151.0,440.79 L152.0,440.89 L153.0,441.20 L154.0,441.60 L155.0,442.07 L156.0,441.36 L157.0,442.02 L158.0,441.64 L159.0,441.85 L160.0,442.65 L161.0,442.52 L162.0,442.96 L163.0,442.56 L164.0,442.19 L165.0,442.62 L166.0,442.86 L167.0,443.23 L168.0,443.28 L169.0,442.77 L170.0,442.69 L171.0,442.35 L172.0,442.85 L173.0,442.36 L174.0,442.23 L175.0,442.01 L176.0,441.90 L177.0,442.47 L178.0,441.79 L179.0,442.50 L180.0,441.47 L181.0,442.09 L182.0,441.18 L183.0,440.89 L184.0,441.39 L185.0,440.71 L186.0,440.99 L187.0,440.22 L188.0,439.84 L189.0,440.32 L190.0,440.01 L191.0,439.89 L192.0,439.49 L193.0,438.57 L194.0,438.83 L195.0,438.62 L196.0,438.07 L197.0,438.24 L198.0,437.25 L199.0,437.65 L200.0,437.08 L201.0,436.05 L202.0,435.73 L203.0,436.04 L204.0,435.87 L205.0,434.80 L206.0,434.70 L207.0,434.79 L208.0,433.89 L209.0,434.25 L210.0,433.55 L211.0,432.79 L212.0,432.77 L213.0,432.65 L214.0,432.20 L215.0,432.12 L216.0,431.27 L217.0,431.62 L218.0,430.88 L219.0,430.86 L220.0,430.56 L221.0,430.06 L222.0,429.75 L223.0,429.89 L224.0,429.78 L225.0,429.37 L226.0,428.91 L227.0,428.41 L228.0,427.95 L229.0,428.65 L230.0,428.18 L231.0,428.11 L232.0,427.44 L233.0,427.54 L234.0,427.76 L235.0,427.47 L236.0,427.11 L237.0,426.69 L238.0,426.71 L239.0,427.07 L240.0,426.48 L241.0,426.72 L242.0,426.58 L243.0,426.84 L244.0,426.72 L245.0,426.19 L246.0,425.90 L247.0,426.18 L248.0,426.36 L249.0,426.57 L250.0,426.85 L251.0,426.99 L252.0,426.23 L253.0,427.11 L254.0,427.20 L255.0,427.37 L256.0,427.21 L257.0,427.05 L258.0,427.79 L259.0,427.91 L260.0,427.97 L261.0,428.39 L262.0,428.02 L263.0,427.98 L264.0,428.67 L265.0,429.14 L266.0,428.79 L267.0,429.59 L268.0,430.03 L269.0,429.60 L270.0,430.25 L271.0,430.61 L272.0,430.68 L273.0,430.72 L274.0,431.07 L275.0,431.88 L276.0,432.23 L277.0,432.22 L278.0,432.17 L279.0,433.21 L280.0,433.50 L281.0,433.29 L282.0,433.97 L283.0,434.62 L284.0,434.94 L285.0,434.91 L286.0,435.20 L287.0,435.65 L288.0,435.58 L289.0,435.91 L290.0,436.22 L291.0,437.06 L292.0,437.04 L293.0,437.56 L294.0,437.71 L295.0,438.13 L296.0,438.06 L297.0,438.24 L298.0,439.48 L299.0,439.14 L300.0,439.14 L301.0,439.93 L302.0,440.34 L303.0,439.95 L304.0,440.63 L305.0,440.60 L306.0,440.99 L307.0,440.70 L308.0,440.90 L309.0,442.04 L310.0,442.09 L311.0,441.87 L312.0,442.10 L313.0,441.93 L314.0,442.57 L315.0,442.32 L316.0,442.94 L317.0,442.84 L318.0,442.97 L319.0,443.17 L320.0,442.50 L321.0,442.32 L322.0,442.50 L323.0,442.48 L324.0,442.37 L325.0,442.32 L326.0,442.79 L327.0,443.05 L328.0,442.57 L329.0,442.98 L330.0,442.86 L331.0,441.91 L332.0,442.32 L333.0,442.00 L334.0,441.58 L335.0,442.26 L336.0,441.40 L337.0,441.53 L338.0,441.41 L339.0,441.53 L340.0,441.03 L341.0,440.54 L342.0,440.36 L343.0,439.83 L344.0,440.39 L345.0,440.16 L346.0,439.12 L347.0,438.66 L348.0,438.60 L349.0,438.41 L350.0,438.66 L351.0,438.36 L352.0,437.99 L353.0,436.89 L354.0,437.31 L355.0,436.91 L356.0,436.52 L357.0,436.54 L358.0,435.28 L359.0,435.04 L360.0,435.31 L361.0,435.16 L362.0,434.57 L363.0,433.86 L364.0,433.82 L365.0,433.65 L366.0,432.67 L367.0,432.56 L368.0,432.17 L369.0,431.72 L370.0,431.76 L371.0,431.14 L372.0,430.90 L373.0,430.51 L374.0,430.75 L375.0,429.80 L376.0,430.22 L377.0,429.43 L378.0,429.00 L379.0,429.64 L380.0,428.69 L381.0,429.16 L382.0,428.87 L383.0,428.67 L384.0,427.72 L385.0,427.83 L386.0,427.29 L387.0,427.95 L388.0,427.70 L389.0,427.34 L390.0,427.02 L391.0,426.78 L392.0,427.15 L393.0,426.71 L394.0,426.77 L395.0,426.21 L396.0,426.23 L397.0,426.02 L398.0,426.64 L399.0,426.46 L400.0,426.04 L401.0,426.78 L402.0,426.19 L403.0,426.37 L404.0,426.16 L405.0,426.34 L406.0,426.98 L407.0,426.56 L408.0,426.50 L409.0,426.93 L410.0,426.89 L411.0,427.61 L412.0,426.97 L413.0,428.00 L414.0,427.25 L415.0,428.27 L416.0,428.24 L417.0,427.99 L418.0,428.48 L419.0,428.51 L420.0,428.72 L421.0,428.91 L422.0,429.33 L423.0,430.22 L424.0,430.50 L425.0,430.71 L426.0,430.17 L427.0,430.66 L428.0,431.56 L429.0,431.03 L430.0,432.01 L431.0,431.89 L432.0,432.90 L433.0,432.26 L434.0,433.37 L435.0,433.24 L436.0,433.37 L437.0,433.56 L438.0,434.72 L439.0,434.75 L440.0,434.74 L441.0,435.33 L442.0,436.13 L443.0,435.77 L444.0,436.45 L445.0,436.34 L446.0,436.70 L447.0,437.61 L448.0,437.86 L449.0,437.65 L450.0,437.84 L451.0,438.14 L452.0,438.95 L453.0,439.12 L454.0,439.17 L455.0,439.37 L456.0,440.04 L457.0,440.38 L458.0,440.72 L459.0,440.73 L460.0,440.57 L461.0,440.64 L462.0,441.51 L463.0,441.37 L464.0,441.86 L465.0,441.36 L466.0,442.27 L467.0,441.93 L468.0,442.57 L469.0,442.71 L470.0,442.44 L471.0,442.05 L472.0,443.02 L473.0,442.65 L474.0,443.10 L475.0,442.53 L476.0,442.48 L477.0,443.13 L478.0,442.66 L479.0,442.44 L480.0,442.62 L481.0,442.80 L482.0,442.15 L483.0,442.60 L484.0,442.44 L485.0,442.41 L486.0,441.91 L487.0,442.38 L488.0,442.35 L489.0,442.25 L490.0,441.54 L491.0,441.76 L492.0,441.25 L493.0,441.43 L494.0,440.53 L495.0,441.13 L496.0,440.98 L497.0,440.29 L498.0,440.06 L499.0,439.83 L500.0,439.57 L501.0,438.78 L502.0,439.45 L503.0,438.42 L504.0,438.09 L505.0,437.71 L506.0,437.56 L507.0,437.81 L508.0,436.71 L509.0,436.46 L510.0,436.74 L511.0,435.91 L512.0,435.40 L513.0,435.66 L514.0,435.30 L515.0,434.91 L516.0,434.76 L517.0,433.83 L518.0,434.26 L519.0,433.78 L520.0,432.78 L521.0,432.53 L522.0,432.57 L523.0,432.26 L524.0,431.72 L525.0,431.25 L526.0,431.22 L527.0,430.65 L528.0,430.81 L529.0,430.79 L530.0,429.79 L531.0,429.94 L532.0,429.85 L533.0,429.00 L534.0,429.41 L535.0,429.28 L536.0,428.50 L537.0,428.31 L538.0,428.52 L539.0,428.00 L540.0,427.68 L541.0,428.05" stroke="#1010c8" stroke-width="3.4"/>
</g>
<path d="M49.0,25.0 H542.0 V488.5 H49.0 Z" fill="none" stroke="#000" stroke-width="2.1"/>
<line x1="49.0" y1="487.6" x2="542.0" y2="487.6" stroke="#111" stroke-width="1.2"/>
<line x1="44" y1="94.0" x2="49" y2="94.0" stroke="#000" stroke-width="1.8"/>
<line x1="44" y1="186.7" x2="49" y2="186.7" stroke="#000" stroke-width="1.8"/>
<line x1="44" y1="279.1" x2="49" y2="279.1" stroke="#000" stroke-width="1.8"/>
<line x1="44" y1="371.9" x2="49" y2="371.9" stroke="#000" stroke-width="1.8"/>
<line x1="44" y1="464.3" x2="49" y2="464.3" stroke="#000" stroke-width="1.8"/>
<text x="26.8" y="51.6" font-size="16.5" fill="#111" stroke="#111" stroke-width="0.3">2π</text>
<text x="32.4" y="100.8" font-size="16.5" fill="#111" stroke="#111" stroke-width="0.3">0</text>
<text x="26.4" y="142.8" font-size="16.5" fill="#111" stroke="#111" stroke-width="0.3">2π</text>
<text x="32.8" y="191.6" font-size="16.5" fill="#111" stroke="#111" stroke-width="0.3">0</text>
<text x="32.4" y="238.4" font-size="16.5" fill="#111" stroke="#111" stroke-width="0.3">2</text>
<text x="32.4" y="262.1" font-size="16.5" fill="#111" stroke="#111" stroke-width="0.3">1</text>
<text x="32.4" y="286.6" font-size="16.5" fill="#111" stroke="#111" stroke-width="0.3">0</text>
<text x="32.4" y="331.5" font-size="16.5" fill="#111" stroke="#111" stroke-width="0.3">1</text>
<text x="25.4" y="354.5" font-size="16.5" fill="#111" stroke="#111" stroke-width="0.3">0.5</text>
<text x="32.4" y="379.4" font-size="16.5" fill="#111" stroke="#111" stroke-width="0.3">0</text>
<text x="32.4" y="424.4" font-size="16.5" fill="#111" stroke="#111" stroke-width="0.3">1</text>
<text x="25.8" y="447.2" font-size="16.5" fill="#111" stroke="#111" stroke-width="0.3">0.5</text>
<text x="32.4" y="470.7" font-size="16.5" fill="#111" stroke="#111" stroke-width="0.3">0</text>
<text transform="translate(22.2,114.0) rotate(-90)" x="0" y="0" font-size="14.5" fill="#111" stroke="#111" stroke-width="0.18" textLength="86.4" lengthAdjust="spacingAndGlyphs">(π rad / div)</text>
<text transform="translate(22.2,209.8) rotate(-90)" x="0" y="0" font-size="14.5" fill="#111" stroke="#111" stroke-width="0.18" textLength="87.1" lengthAdjust="spacingAndGlyphs">(π rad / div)</text>
<text transform="translate(22.2,287.4) rotate(-90)" x="0" y="0" font-size="14.5" fill="#111" stroke="#111" stroke-width="0.18" textLength="63.2" lengthAdjust="spacingAndGlyphs">(1V/ div)</text>
<text transform="translate(22.2,389.8) rotate(-90)" x="0" y="0" font-size="14.5" fill="#111" stroke="#111" stroke-width="0.18" textLength="80.0" lengthAdjust="spacingAndGlyphs">(0.5V / div)</text>
<text transform="translate(22.2,485.0) rotate(-90)" x="0" y="0" font-size="14.5" fill="#111" stroke="#111" stroke-width="0.18" textLength="82.7" lengthAdjust="spacingAndGlyphs">(0.5V / div)</text>
<text x="461.8" y="40.4" font-size="15.6" fill="#111" stroke="#111" stroke-width="0.08" textLength="77.2" lengthAdjust="spacingAndGlyphs">(16ms/div)</text>
<text x="461.8" y="133.0" font-size="15.6" fill="#111" stroke="#111" stroke-width="0.08" textLength="77.2" lengthAdjust="spacingAndGlyphs">(16ms/div)</text>
<text x="461.8" y="225.6" font-size="15.6" fill="#111" stroke="#111" stroke-width="0.08" textLength="77.2" lengthAdjust="spacingAndGlyphs">(16ms/div)</text>
<text x="461.8" y="318.3" font-size="15.6" fill="#111" stroke="#111" stroke-width="0.08" textLength="77.2" lengthAdjust="spacingAndGlyphs">(16ms/div)</text>
<text x="461.8" y="411.0" font-size="15.6" fill="#111" stroke="#111" stroke-width="0.08" textLength="77.2" lengthAdjust="spacingAndGlyphs">(16ms/div)</text>
<text x="254.8" y="511.6" font-size="15.2" fill="#111" stroke="#111" stroke-width="0.2" textLength="81" lengthAdjust="spacingAndGlyphs"><tspan font-style="italic">t</tspan>(16ms/div)</text>
<text x="198.4" y="52.6" font-size="17.6" fill="#1e1ef0" stroke="#1e1ef0" stroke-width="0.12" font-style="italic" textLength="11" lengthAdjust="spacingAndGlyphs">θ</text>
<text x="208.2" y="59" font-size="17" fill="#1e1ef0">r</text>
<line x1="210.8" y1="59.5" x2="216.2" y2="73.1" stroke="#2424e0" stroke-width="2.0"/>
<path d="M218.8,79.6 L212.1,73.6 L219.6,70.7 Z" fill="#2424e0"/>
<text x="204.8" y="145" font-size="17.6" fill="#e619d2" stroke="#e619d2" stroke-width="0.12" font-style="italic" textLength="11" lengthAdjust="spacingAndGlyphs">θ</text>
<text x="214.0" y="150.8" font-size="13.3" fill="#e619d2" textLength="7.6" lengthAdjust="spacingAndGlyphs" transform="translate(0,150.8) skewX(-10) translate(0,-150.8)">0</text>
<line x1="217.0" y1="152.0" x2="222.2" y2="165.8" stroke="#e619d2" stroke-width="2.0"/>
<path d="M224.6,172.4 L218.1,166.3 L225.6,163.5 Z" fill="#e619d2"/>
<text x="149.6" y="291.5" font-size="16.5" fill="#d9443c" font-style="italic">k</text>
<text x="157.0" y="291.5" font-size="9" fill="#d9443c" stroke="#d9443c" stroke-width="0.3">1</text>
<text x="160.6" y="291.5" font-size="16.5" fill="#d9443c">=1</text>
<line x1="172.7" y1="279.2" x2="181.0" y2="266.8" stroke="#d9443c" stroke-width="2.0"/>
<path d="M184.9,261.0 L183.8,269.9 L177.1,265.4 Z" fill="#d9443c"/>
<text x="314.6" y="293.7" font-size="16.5" fill="#22c3c8" font-style="italic">k</text>
<text x="321.6" y="293.7" font-size="9" fill="#22c3c8" stroke="#22c3c8" stroke-width="0.3">1</text>
<line x1="330.0" y1="281.4" x2="338.2" y2="269.9" stroke="#22c3c8" stroke-width="2.0"/>
<path d="M342.2,264.2 L340.8,273.0 L334.3,268.4 Z" fill="#22c3c8"/>
<text x="180.3" y="381.2" font-size="21.5" fill="#e01818" stroke="#e01818" stroke-width="0.1" font-style="italic" textLength="13.2" lengthAdjust="spacingAndGlyphs">u</text>
<text x="192.7" y="381.2" font-size="10" fill="#e01818" stroke="#e01818" stroke-width="0.25" textLength="26.5" lengthAdjust="spacingAndGlyphs">B_avg</text>
<line x1="208.6" y1="368.9" x2="216.4" y2="357.4" stroke="#e01818" stroke-width="2.0"/>
<path d="M220.3,351.6 L219.1,360.5 L212.5,356.0 Z" fill="#e01818"/>
<text x="252.8" y="382.6" font-size="21.5" fill="#7b7bf5" stroke="#7b7bf5" stroke-width="0.1" font-style="italic" textLength="13.2" lengthAdjust="spacingAndGlyphs">u</text>
<text x="265.2" y="382.6" font-size="10" fill="#7b7bf5" stroke="#7b7bf5" stroke-width="0.25" textLength="26.5" lengthAdjust="spacingAndGlyphs">C_avg</text>
<line x1="280.7" y1="371.2" x2="288.8" y2="359.7" stroke="#7b7bf5" stroke-width="2.0"/>
<path d="M292.8,354.0 L291.5,362.8 L284.9,358.2 Z" fill="#7b7bf5"/>
<text x="203.0" y="474.5" font-size="21.5" fill="#19b46e" stroke="#19b46e" stroke-width="0.1" font-style="italic" textLength="13.2" lengthAdjust="spacingAndGlyphs">u</text>
<text x="215.4" y="474.5" font-size="10" fill="#19b46e" stroke="#19b46e" stroke-width="0.25" textLength="26.5" lengthAdjust="spacingAndGlyphs">A_avg</text>
<line x1="231.8" y1="461.4" x2="240.0" y2="449.8" stroke="#19b46e" stroke-width="2.0"/>
<path d="M244.0,444.1 L242.7,452.9 L236.1,448.3 Z" fill="#19b46e"/>
<text x="269.6" y="474.5" font-size="21.5" fill="#3434d0" stroke="#3434d0" stroke-width="0.1" font-style="italic" textLength="13.2" lengthAdjust="spacingAndGlyphs">u</text>
<text x="282.0" y="474.5" font-size="10" fill="#3434d0" stroke="#3434d0" stroke-width="0.25" textLength="26.5" lengthAdjust="spacingAndGlyphs">C_avg</text>
<line x1="298.2" y1="461.8" x2="306.1" y2="449.9" stroke="#3434d0" stroke-width="2.0"/>
<path d="M310.0,444.1 L308.9,453.0 L302.2,448.5 Z" fill="#3434d0"/>
</svg></body></html>
